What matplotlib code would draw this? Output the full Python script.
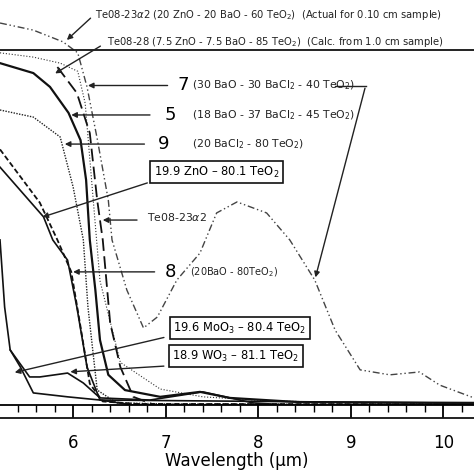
import matplotlib.pyplot as plt
import matplotlib.ticker as mticker

# transmission curves, wavelength (um) vs transmission (%)
c7_x = [5.21, 5.57, 5.89, 6.05, 6.15, 6.26, 6.38, 6.42, 6.58, 6.76, 6.91, 7.12, 7.37, 7.55, 7.77,
        8.09, 8.34, 8.61, 8.83, 9.10, 9.42, 9.74, 9.96, 10.33]
c7_y = [107.6, 105.6, 102.3, 99.2, 89.6, 75.0, 57.7, 46.5, 32.4, 21.7, 24.8, 35.2, 42.8, 54.1, 57.2,
        54.1, 46.5, 35.2, 21.1, 9.9, 8.5, 9.3, 5.6, 2.0]
c28_x = [5.21, 5.57, 5.86, 6.05, 6.13, 6.21, 6.29, 6.51, 6.94, 7.40, 8.09, 9.10, 10.33]
c28_y = [99.2, 98.0, 96.3, 94.0, 85.0, 60.0, 35.0, 12.0, 4.5, 2.3, 1.2, 0.6, 0.3]
c5_x = [5.21, 5.57, 5.75, 5.95, 6.08, 6.14, 6.18, 6.24, 6.29, 6.38, 6.56, 6.94, 7.37, 7.69, 8.45, 10.33]
c5_y = [96.3, 93.5, 89.6, 82.3, 74.6, 63.4, 46.5, 32.4, 18.3, 8.5, 4.2, 2.3, 3.7, 2.0, 0.8, 0.6]
c9_x = [5.21, 5.57, 5.86, 6.00, 6.11, 6.16, 6.26, 6.47, 7.00, 10.33]
c9_y = [83.1, 81.1, 75.5, 61.4, 46.5, 27.6, 4.2, 0.6, 0.3, 0.2]
zn_x = [5.21, 5.68, 5.78, 5.94, 6.04, 6.15, 6.29, 6.65, 10.33]
zn_y = [67.0, 53.0, 46.5, 40.8, 27.6, 10.7, 1.4, 0.0, 0.0]
c8_x = [5.21, 5.64, 5.83, 5.98, 6.08, 6.18, 6.32, 6.70, 10.33]
c8_y = [72.0, 57.0, 46.5, 37.5, 22.0, 6.0, 1.0, 0.3, 0.2]
ta_x = [5.83, 6.04, 6.18, 6.26, 6.32, 6.40, 6.51, 6.65, 6.94, 10.33]
ta_y = [95.2, 87.9, 76.6, 57.7, 46.5, 23.1, 10.7, 2.3, -0.6, -0.6]
mo_x = [5.21, 5.26, 5.32, 5.53, 5.64, 5.94, 6.11, 6.29, 6.83, 7.40, 7.94, 8.80, 10.33]
mo_y = [46.5, 27.6, 15.5, 7.9, 7.9, 9.0, 6.2, 2.0, 1.4, 3.7, 0.6, -0.8, -0.8]
wo_x = [5.32, 5.43, 5.57, 5.94, 6.29, 10.33]
wo_y = [15.5, 10.7, 3.4, 2.3, 1.4, 0.5]

fig = plt.figure(figsize=(4.74, 4.74), dpi=100)
ax = fig.add_axes([0, 1 - 405 / 474, 1, 405 / 474])

ax.plot(c7_x, c7_y, color='#444', lw=1.0, ls=(0, (5, 2, 1, 2, 1, 2)))
ax.plot(c28_x, c28_y, color='#333', lw=0.8, ls=':')
ax.plot(c5_x, c5_y, color='#111', lw=1.6)
ax.plot(c9_x, c9_y, color='#222', lw=1.0, ls=(0, (1, 1)))
ax.plot(zn_x, zn_y, color='#111', lw=1.2)
ax.plot(c8_x, c8_y, color='#111', lw=1.3, ls=(0, (3, 1.5)))
ax.plot(ta_x, ta_y, color='#111', lw=1.3, ls=(0, (7, 3)))
ax.plot(mo_x, mo_y, color='#111', lw=1.2)
ax.plot(wo_x, wo_y, color='#111', lw=1.2)

ax.axhline(100, color='#111', lw=1.3)
ax.axhline(-3.7, color='#111', lw=1.3, clip_on=False)

arw = dict(arrowstyle='-|>', color='#222', lw=1.0, mutation_scale=8)
fs = 7.8
ax.annotate('', xy=(5.91, 102.3), xytext=(6.21, 109.5), arrowprops=arw)
ax.text(6.24, 110, r'Te08-23$\alpha$2 (20 ZnO - 20 BaO - 60 TeO$_2$)  (Actual for 0.10 cm sample)',
        fontsize=7.2, va='center', color='#222')
ax.annotate('', xy=(5.78, 93), xytext=(6.32, 101.5), arrowprops=arw)
ax.text(6.37, 102.3, 'Te08-28 (7.5 ZnO - 7.5 BaO - 85 TeO$_2$)  (Calc. from 1.0 cm sample)',
        fontsize=7.2, va='center', color='#222')

ax.annotate('', xy=(6.13, 90), xytext=(7.05, 90), arrowprops=arw)
ax.text(7.13, 90, '7', fontsize=13, va='center')
ax.text(7.28, 90, '(30 BaO - 30 BaCl$_2$ - 40 TeO$_2$)', fontsize=fs, va='center', color='#222')
ax.plot([8.83, 9.16], [90, 90], color='#222', lw=1.0)
ax.annotate('', xy=(8.61, 35.2), xytext=(9.16, 90), arrowprops=arw)

ax.annotate('', xy=(5.95, 81.7), xytext=(6.86, 81.7), arrowprops=arw)
ax.text(6.99, 81.7, '5', fontsize=13, va='center')
ax.text(7.28, 81.7, '(18 BaO - 37 BaCl$_2$ - 45 TeO$_2$)', fontsize=fs, va='center', color='#222')

ax.annotate('', xy=(5.88, 73.5), xytext=(6.80, 73.5), arrowprops=arw)
ax.text(6.92, 73.5, '9', fontsize=13, va='center')
ax.text(7.28, 73.5, '(20 BaCl$_2$ - 80 TeO$_2$)', fontsize=fs, va='center', color='#222')

box = dict(boxstyle='square,pad=0.3', fc='white', ec='#111', lw=1.2)
ax.annotate('', xy=(5.64, 52.7), xytext=(6.83, 62.8), arrowprops=arw)
ax.text(7.55, 65.6, '19.9 ZnO – 80.1 TeO$_2$', fontsize=8.3, ha='center', va='center', bbox=box)

ax.annotate('', xy=(6.29, 52.1), xytext=(6.72, 52.1), arrowprops=arw)
ax.text(6.80, 53.0, r'Te08-23$\alpha$2', fontsize=fs, va='center', color='#222')

ax.annotate('', xy=(5.97, 37.5), xytext=(6.91, 37.5), arrowprops=arw)
ax.text(6.99, 37.5, '8', fontsize=13, va='center')
ax.text(7.26, 37.5, '(20BaO - 80TeO$_2$)', fontsize=7, va='center', color='#222')

ax.annotate('', xy=(5.34, 9.0), xytext=(7.01, 19.2), arrowprops=arw)
ax.text(7.80, 21.7, '19.6 MoO$_3$ – 80.4 TeO$_2$', fontsize=8.3, ha='center', va='center', bbox=box)
ax.annotate('', xy=(5.94, 9.3), xytext=(7.01, 11.0), arrowprops=arw)
ax.text(7.76, 13.8, '18.9 WO$_3$ – 81.1 TeO$_2$', fontsize=8.3, ha='center', va='center', bbox=box)

ax.set_xlim(5.21, 10.33)
ax.set_ylim(0, 405 / 3.55)
for s in ['top', 'left', 'right']:
    ax.spines[s].set_visible(False)
ax.spines['bottom'].set_linewidth(1.3)
ax.set_yticks([])
ax.xaxis.set_major_locator(mticker.MultipleLocator(1))
ax.xaxis.set_minor_locator(mticker.MultipleLocator(0.2))
ax.tick_params(axis='x', which='major', direction='out', length=9, width=1.3, labelsize=12, pad=12)
ax.tick_params(axis='x', which='minor', direction='out', length=5, width=1.0)
ax.set_xlabel('Wavelength (µm)', fontsize=12, labelpad=0)

fig.savefig('out.png', dpi=100)
